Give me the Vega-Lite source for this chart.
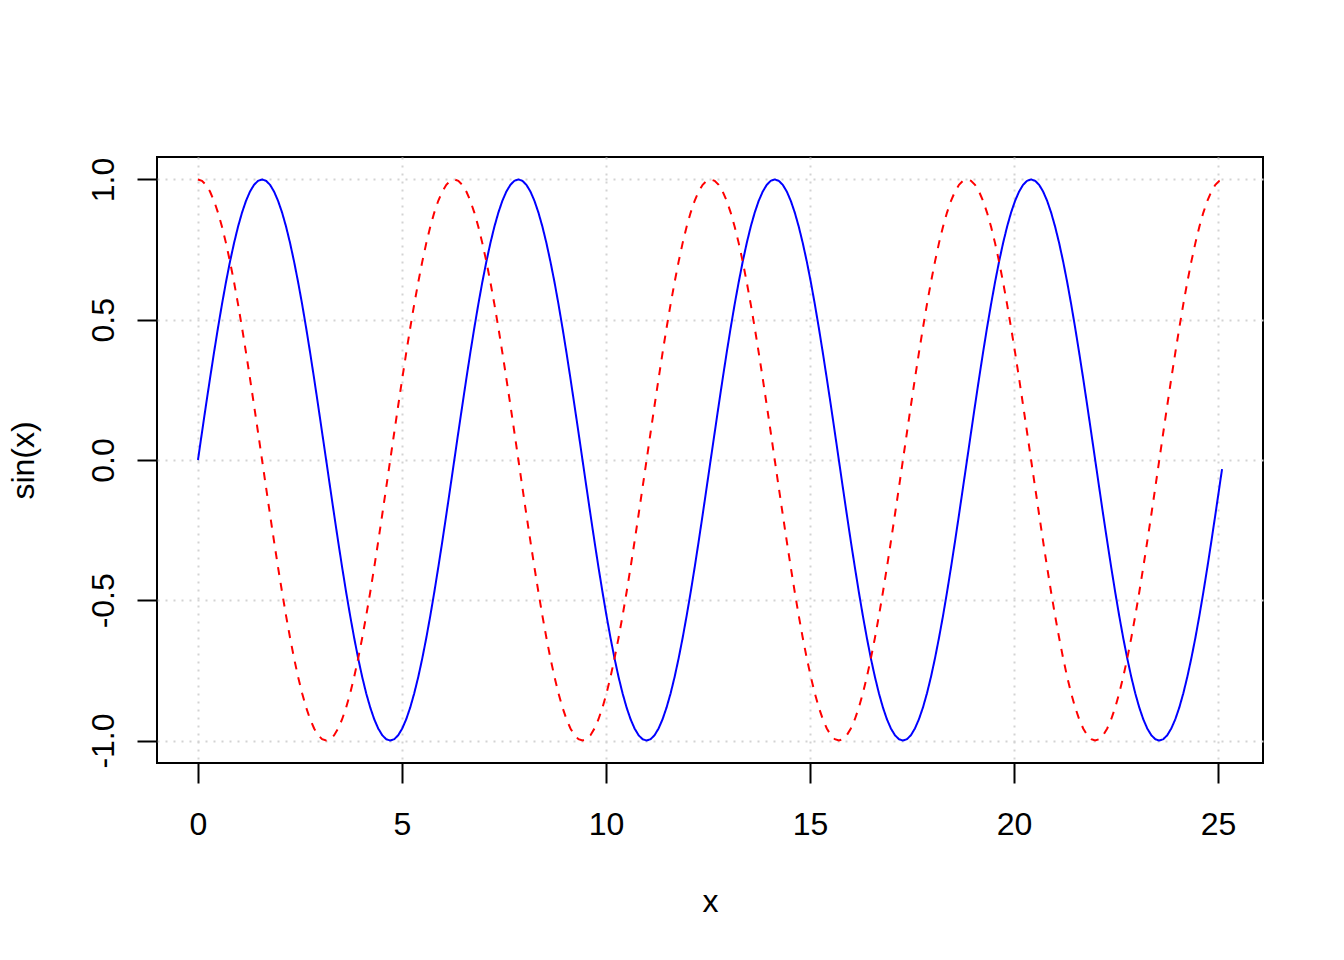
{
"$schema": "https://vega.github.io/schema/vega-lite/v6.json",
"width": 1106, "height": 606,
"autosize": {"type": "none"},
"padding": {"left": 157, "top": 157, "right": 81, "bottom": 197},
"background": "white",
"config": {"view": {"stroke": "black", "strokeWidth": 2}, "font": "Liberation Sans"},
"data": {"values": [
{"x":0,"s":0,"c":1},{"x":0.196,"s":0.1951,"c":0.9808},{"x":0.393,"s":0.3827,"c":0.9239},{"x":0.589,"s":0.5556,"c":0.8315},{"x":0.785,"s":0.7071,"c":0.7071},{"x":0.982,"s":0.8315,"c":0.5556},{"x":1.178,"s":0.9239,"c":0.3827},{"x":1.374,"s":0.9808,"c":0.1951},
{"x":1.571,"s":1,"c":0},{"x":1.767,"s":0.9808,"c":-0.1951},{"x":1.963,"s":0.9239,"c":-0.3827},{"x":2.160,"s":0.8315,"c":-0.5556},{"x":2.356,"s":0.7071,"c":-0.7071},{"x":2.553,"s":0.5556,"c":-0.8315},{"x":2.749,"s":0.3827,"c":-0.9239},{"x":2.945,"s":0.1951,"c":-0.9808},
{"x":3.142,"s":0,"c":-1},{"x":3.338,"s":-0.1951,"c":-0.9808},{"x":3.534,"s":-0.3827,"c":-0.9239},{"x":3.731,"s":-0.5556,"c":-0.8315},{"x":3.927,"s":-0.7071,"c":-0.7071},{"x":4.123,"s":-0.8315,"c":-0.5556},{"x":4.320,"s":-0.9239,"c":-0.3827},{"x":4.516,"s":-0.9808,"c":-0.1951},
{"x":4.712,"s":-1,"c":0},{"x":4.909,"s":-0.9808,"c":0.1951},{"x":5.105,"s":-0.9239,"c":0.3827},{"x":5.301,"s":-0.8315,"c":0.5556},{"x":5.498,"s":-0.7071,"c":0.7071},{"x":5.694,"s":-0.5556,"c":0.8315},{"x":5.890,"s":-0.3827,"c":0.9239},{"x":6.087,"s":-0.1951,"c":0.9808},
{"x":6.283,"s":0,"c":1},{"x":6.480,"s":0.1951,"c":0.9808},{"x":6.676,"s":0.3827,"c":0.9239},{"x":6.872,"s":0.5556,"c":0.8315},{"x":7.069,"s":0.7071,"c":0.7071},{"x":7.265,"s":0.8315,"c":0.5556},{"x":7.461,"s":0.9239,"c":0.3827},{"x":7.658,"s":0.9808,"c":0.1951},
{"x":7.854,"s":1,"c":0},{"x":8.050,"s":0.9808,"c":-0.1951},{"x":8.247,"s":0.9239,"c":-0.3827},{"x":8.443,"s":0.8315,"c":-0.5556},{"x":8.639,"s":0.7071,"c":-0.7071},{"x":8.836,"s":0.5556,"c":-0.8315},{"x":9.032,"s":0.3827,"c":-0.9239},{"x":9.228,"s":0.1951,"c":-0.9808},
{"x":9.425,"s":0,"c":-1},{"x":9.621,"s":-0.1951,"c":-0.9808},{"x":9.817,"s":-0.3827,"c":-0.9239},{"x":10.014,"s":-0.5556,"c":-0.8315},{"x":10.210,"s":-0.7071,"c":-0.7071},{"x":10.407,"s":-0.8315,"c":-0.5556},{"x":10.603,"s":-0.9239,"c":-0.3827},{"x":10.799,"s":-0.9808,"c":-0.1951},
{"x":10.996,"s":-1,"c":0},{"x":11.192,"s":-0.9808,"c":0.1951},{"x":11.388,"s":-0.9239,"c":0.3827},{"x":11.585,"s":-0.8315,"c":0.5556},{"x":11.781,"s":-0.7071,"c":0.7071},{"x":11.977,"s":-0.5556,"c":0.8315},{"x":12.174,"s":-0.3827,"c":0.9239},{"x":12.370,"s":-0.1951,"c":0.9808},
{"x":12.566,"s":0,"c":1},{"x":12.763,"s":0.1951,"c":0.9808},{"x":12.959,"s":0.3827,"c":0.9239},{"x":13.155,"s":0.5556,"c":0.8315},{"x":13.352,"s":0.7071,"c":0.7071},{"x":13.548,"s":0.8315,"c":0.5556},{"x":13.744,"s":0.9239,"c":0.3827},{"x":13.941,"s":0.9808,"c":0.1951},
{"x":14.137,"s":1,"c":0},{"x":14.334,"s":0.9808,"c":-0.1951},{"x":14.530,"s":0.9239,"c":-0.3827},{"x":14.726,"s":0.8315,"c":-0.5556},{"x":14.923,"s":0.7071,"c":-0.7071},{"x":15.119,"s":0.5556,"c":-0.8315},{"x":15.315,"s":0.3827,"c":-0.9239},{"x":15.512,"s":0.1951,"c":-0.9808},
{"x":15.708,"s":0,"c":-1},{"x":15.904,"s":-0.1951,"c":-0.9808},{"x":16.101,"s":-0.3827,"c":-0.9239},{"x":16.297,"s":-0.5556,"c":-0.8315},{"x":16.493,"s":-0.7071,"c":-0.7071},{"x":16.690,"s":-0.8315,"c":-0.5556},{"x":16.886,"s":-0.9239,"c":-0.3827},{"x":17.082,"s":-0.9808,"c":-0.1951},
{"x":17.279,"s":-1,"c":0},{"x":17.475,"s":-0.9808,"c":0.1951},{"x":17.671,"s":-0.9239,"c":0.3827},{"x":17.868,"s":-0.8315,"c":0.5556},{"x":18.064,"s":-0.7071,"c":0.7071},{"x":18.261,"s":-0.5556,"c":0.8315},{"x":18.457,"s":-0.3827,"c":0.9239},{"x":18.653,"s":-0.1951,"c":0.9808},
{"x":18.850,"s":0,"c":1},{"x":19.046,"s":0.1951,"c":0.9808},{"x":19.242,"s":0.3827,"c":0.9239},{"x":19.439,"s":0.5556,"c":0.8315},{"x":19.635,"s":0.7071,"c":0.7071},{"x":19.831,"s":0.8315,"c":0.5556},{"x":20.028,"s":0.9239,"c":0.3827},{"x":20.224,"s":0.9808,"c":0.1951},
{"x":20.420,"s":1,"c":0},{"x":20.617,"s":0.9808,"c":-0.1951},{"x":20.813,"s":0.9239,"c":-0.3827},{"x":21.009,"s":0.8315,"c":-0.5556},{"x":21.206,"s":0.7071,"c":-0.7071},{"x":21.402,"s":0.5556,"c":-0.8315},{"x":21.598,"s":0.3827,"c":-0.9239},{"x":21.795,"s":0.1951,"c":-0.9808},
{"x":21.991,"s":0,"c":-1},{"x":22.187,"s":-0.1951,"c":-0.9808},{"x":22.384,"s":-0.3827,"c":-0.9239},{"x":22.580,"s":-0.5556,"c":-0.8315},{"x":22.777,"s":-0.7071,"c":-0.7071},{"x":22.973,"s":-0.8315,"c":-0.5556},{"x":23.169,"s":-0.9239,"c":-0.3827},{"x":23.366,"s":-0.9808,"c":-0.1951},
{"x":23.562,"s":-1,"c":0},{"x":23.758,"s":-0.9808,"c":0.1951},{"x":23.955,"s":-0.9239,"c":0.3827},{"x":24.151,"s":-0.8315,"c":0.5556},{"x":24.347,"s":-0.7071,"c":0.7071},{"x":24.544,"s":-0.5556,"c":0.8315},{"x":24.740,"s":-0.3827,"c":0.9239},{"x":24.936,"s":-0.1951,"c":0.9808},
{"x":25.1,"s":-0.0327,"c":0.9995},
{"x":0.098,"s":0.0980,"c":0.9952},{"x":0.295,"s":0.2903,"c":0.9569},{"x":0.491,"s":0.4714,"c":0.8819},{"x":0.687,"s":0.6344,"c":0.7730},{"x":0.884,"s":0.7730,"c":0.6344},{"x":1.080,"s":0.8819,"c":0.4714},{"x":1.276,"s":0.9569,"c":0.2903},{"x":1.473,"s":0.9952,"c":0.0980},
{"x":1.669,"s":0.9952,"c":-0.0980},{"x":1.865,"s":0.9569,"c":-0.2903},{"x":2.062,"s":0.8819,"c":-0.4714},{"x":2.258,"s":0.7730,"c":-0.6344},{"x":2.454,"s":0.6344,"c":-0.7730},{"x":2.651,"s":0.4714,"c":-0.8819},{"x":2.847,"s":0.2903,"c":-0.9569},{"x":3.043,"s":0.0980,"c":-0.9952},
{"x":3.240,"s":-0.0980,"c":-0.9952},{"x":3.436,"s":-0.2903,"c":-0.9569},{"x":3.632,"s":-0.4714,"c":-0.8819},{"x":3.829,"s":-0.6344,"c":-0.7730},{"x":4.025,"s":-0.7730,"c":-0.6344},{"x":4.222,"s":-0.8819,"c":-0.4714},{"x":4.418,"s":-0.9569,"c":-0.2903},{"x":4.614,"s":-0.9952,"c":-0.0980},
{"x":4.811,"s":-0.9952,"c":0.0980},{"x":5.007,"s":-0.9569,"c":0.2903},{"x":5.203,"s":-0.8819,"c":0.4714},{"x":5.400,"s":-0.7730,"c":0.6344},{"x":5.596,"s":-0.6344,"c":0.7730},{"x":5.792,"s":-0.4714,"c":0.8819},{"x":5.989,"s":-0.2903,"c":0.9569},{"x":6.185,"s":-0.0980,"c":0.9952},
{"x":6.381,"s":0.0980,"c":0.9952},{"x":6.578,"s":0.2903,"c":0.9569},{"x":6.774,"s":0.4714,"c":0.8819},{"x":6.970,"s":0.6344,"c":0.7730},{"x":7.167,"s":0.7730,"c":0.6344},{"x":7.363,"s":0.8819,"c":0.4714},{"x":7.559,"s":0.9569,"c":0.2903},{"x":7.756,"s":0.9952,"c":0.0980},
{"x":7.952,"s":0.9952,"c":-0.0980},{"x":8.149,"s":0.9569,"c":-0.2903},{"x":8.345,"s":0.8819,"c":-0.4714},{"x":8.541,"s":0.7730,"c":-0.6344},{"x":8.738,"s":0.6344,"c":-0.7730},{"x":8.934,"s":0.4714,"c":-0.8819},{"x":9.130,"s":0.2903,"c":-0.9569},{"x":9.327,"s":0.0980,"c":-0.9952},
{"x":9.523,"s":-0.0980,"c":-0.9952},{"x":9.719,"s":-0.2903,"c":-0.9569},{"x":9.916,"s":-0.4714,"c":-0.8819},{"x":10.112,"s":-0.6344,"c":-0.7730},{"x":10.308,"s":-0.7730,"c":-0.6344},{"x":10.505,"s":-0.8819,"c":-0.4714},{"x":10.701,"s":-0.9569,"c":-0.2903},{"x":10.897,"s":-0.9952,"c":-0.0980},
{"x":11.094,"s":-0.9952,"c":0.0980},{"x":11.290,"s":-0.9569,"c":0.2903},{"x":11.486,"s":-0.8819,"c":0.4714},{"x":11.683,"s":-0.7730,"c":0.6344},{"x":11.879,"s":-0.6344,"c":0.7730},{"x":12.076,"s":-0.4714,"c":0.8819},{"x":12.272,"s":-0.2903,"c":0.9569},{"x":12.468,"s":-0.0980,"c":0.9952},
{"x":12.665,"s":0.0980,"c":0.9952},{"x":12.861,"s":0.2903,"c":0.9569},{"x":13.057,"s":0.4714,"c":0.8819},{"x":13.254,"s":0.6344,"c":0.7730},{"x":13.450,"s":0.7730,"c":0.6344},{"x":13.646,"s":0.8819,"c":0.4714},{"x":13.843,"s":0.9569,"c":0.2903},{"x":14.039,"s":0.9952,"c":0.0980},
{"x":14.235,"s":0.9952,"c":-0.0980},{"x":14.432,"s":0.9569,"c":-0.2903},{"x":14.628,"s":0.8819,"c":-0.4714},{"x":14.824,"s":0.7730,"c":-0.6344},{"x":15.021,"s":0.6344,"c":-0.7730},{"x":15.217,"s":0.4714,"c":-0.8819},{"x":15.413,"s":0.2903,"c":-0.9569},{"x":15.610,"s":0.0980,"c":-0.9952},
{"x":15.806,"s":-0.0980,"c":-0.9952},{"x":16.002,"s":-0.2903,"c":-0.9569},{"x":16.199,"s":-0.4714,"c":-0.8819},{"x":16.395,"s":-0.6344,"c":-0.7730},{"x":16.592,"s":-0.7730,"c":-0.6344},{"x":16.788,"s":-0.8819,"c":-0.4714},{"x":16.984,"s":-0.9569,"c":-0.2903},{"x":17.181,"s":-0.9952,"c":-0.0980},
{"x":17.377,"s":-0.9952,"c":0.0980},{"x":17.573,"s":-0.9569,"c":0.2903},{"x":17.770,"s":-0.8819,"c":0.4714},{"x":17.966,"s":-0.7730,"c":0.6344},{"x":18.162,"s":-0.6344,"c":0.7730},{"x":18.359,"s":-0.4714,"c":0.8819},{"x":18.555,"s":-0.2903,"c":0.9569},{"x":18.751,"s":-0.0980,"c":0.9952},
{"x":18.948,"s":0.0980,"c":0.9952},{"x":19.144,"s":0.2903,"c":0.9569},{"x":19.340,"s":0.4714,"c":0.8819},{"x":19.537,"s":0.6344,"c":0.7730},{"x":19.733,"s":0.7730,"c":0.6344},{"x":19.929,"s":0.8819,"c":0.4714},{"x":20.126,"s":0.9569,"c":0.2903},{"x":20.322,"s":0.9952,"c":0.0980},
{"x":20.519,"s":0.9952,"c":-0.0980},{"x":20.715,"s":0.9569,"c":-0.2903},{"x":20.911,"s":0.8819,"c":-0.4714},{"x":21.108,"s":0.7730,"c":-0.6344},{"x":21.304,"s":0.6344,"c":-0.7730},{"x":21.500,"s":0.4714,"c":-0.8819},{"x":21.697,"s":0.2903,"c":-0.9569},{"x":21.893,"s":0.0980,"c":-0.9952},
{"x":22.089,"s":-0.0980,"c":-0.9952},{"x":22.286,"s":-0.2903,"c":-0.9569},{"x":22.482,"s":-0.4714,"c":-0.8819},{"x":22.678,"s":-0.6344,"c":-0.7730},{"x":22.875,"s":-0.7730,"c":-0.6344},{"x":23.071,"s":-0.8819,"c":-0.4714},{"x":23.267,"s":-0.9569,"c":-0.2903},{"x":23.464,"s":-0.9952,"c":-0.0980},
{"x":23.660,"s":-0.9952,"c":0.0980},{"x":23.856,"s":-0.9569,"c":0.2903},{"x":24.053,"s":-0.8819,"c":0.4714},{"x":24.249,"s":-0.7730,"c":0.6344},{"x":24.446,"s":-0.6344,"c":0.7730},{"x":24.642,"s":-0.4714,"c":0.8819},{"x":24.838,"s":-0.2903,"c":0.9569},{"x":25.034,"s":-0.0980,"c":0.9952}
]},
"transform": [{"fold": ["s", "c"], "as": ["key", "value"]}],
"mark": {"type": "line", "strokeWidth": 2, "interpolate": "linear"},
"encoding": {
  "x": {"field": "x", "type": "quantitative",
    "scale": {"domain": [-1.004, 26.104], "nice": false, "zero": false},
    "axis": {"values": [0, 5, 10, 15, 20, 25], "title": "x", "format": "d",
      "grid": true, "gridColor": "#D3D3D3", "gridDash": [2, 6], "gridWidth": 2,
      "domain": false, "ticks": true, "tickSize": 20, "tickColor": "black", "tickWidth": 2,
      "labelFont": "Liberation Sans", "labelFontSize": 32, "labelColor": "black",
      "labelBaseline": "alphabetic", "labelPadding": 51, "labelFlush": false, "labelOverlap": false,
      "titleFont": "Liberation Sans", "titleFontSize": 32, "titleFontWeight": "normal", "titleColor": "black",
      "titleX": 553, "titleY": 148, "titleBaseline": "alphabetic", "titleAlign": "center"}},
  "y": {"field": "value", "type": "quantitative",
    "scale": {"domain": [-1.08, 1.08], "nice": false, "zero": false},
    "axis": {"values": [-1, -0.5, 0, 0.5, 1], "title": "sin(x)",
      "labelExpr": "datum.value < 0 ? '-' + format(-datum.value, '.1f') : format(datum.value, '.1f')",
      "grid": true, "gridColor": "#D3D3D3", "gridDash": [2, 6], "gridWidth": 2,
      "domain": false, "ticks": true, "tickSize": 20, "tickColor": "black", "tickWidth": 2,
      "labelFont": "Liberation Sans", "labelFontSize": 32, "labelColor": "black",
      "labelAngle": -90, "labelAlign": "center", "labelBaseline": "alphabetic", "labelPadding": 24,
      "labelFlush": false, "labelOverlap": false,
      "titleFont": "Liberation Sans", "titleFontSize": 32, "titleFontWeight": "normal", "titleColor": "black",
      "titleX": -124, "titleY": 303, "titleAngle": -90, "titleBaseline": "alphabetic", "titleAlign": "center"}},
  "order": {"field": "x", "type": "quantitative"},
  "color": {"field": "key", "type": "nominal", "scale": {"domain": ["s", "c"], "range": ["blue", "red"]}, "legend": null},
  "strokeDash": {"field": "key", "type": "nominal", "scale": {"domain": ["s", "c"], "range": [[1, 0], [8, 8]]}, "legend": null}
}
}
